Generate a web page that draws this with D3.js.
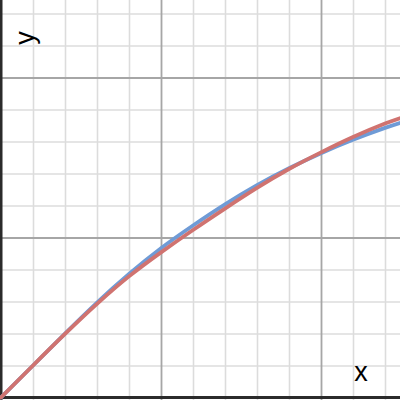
<!DOCTYPE html>
<html>
<head>
<meta charset="utf-8">
<script src="https://cdn.jsdelivr.net/npm/d3@7"></script>
<style>
  html, body { margin: 0; padding: 0; background: #fff; }
  svg { display: block; }
</style>
</head>
<body>
<svg id="graph" width="400" height="400"></svg>
<script>
// values (grid units, 1 major square = 1)
var xs      = [0, 0.2, 0.4, 0.6, 0.8, 1.0, 1.2, 1.4, 1.6, 1.8, 2.0, 2.2, 2.4, 2.5];
var blueYs  = [0, 0.2, 0.399, 0.593, 0.772, 0.933, 1.075, 1.207, 1.327, 1.433, 1.527, 1.611, 1.685, 1.718];
var redYs   = [0, 0.2, 0.397, 0.585, 0.757, 0.907, 1.047, 1.181, 1.31, 1.428, 1.532, 1.628, 1.712, 1.748];
var minorTicks = [0.2, 0.4, 0.6, 0.8, 1.2, 1.4, 1.6, 1.8, 2.2, 2.4];
var majorTicks = [1, 2];
var xLabel = "x", yLabel = "y";

var width = 400, height = 400;
var svg = d3.select("#graph");

var x = d3.scaleLinear().domain([0, 2.5]).range([1, 401]);
var y = d3.scaleLinear().domain([0, 2.5]).range([397.5, -2.5]);

// minor grid
svg.append("g")
    .attr("transform", "translate(0," + height + ")")
    .call(d3.axisBottom(x).tickValues(minorTicks).tickSize(-height).tickFormat(""))
    .call(function(g) { g.select(".domain").remove(); })
    .selectAll("line").attr("stroke", "#dcdcdc").attr("stroke-width", 1.6);
svg.append("g")
    .call(d3.axisLeft(y).tickValues(minorTicks).tickSize(-width).tickFormat(""))
    .call(function(g) { g.select(".domain").remove(); })
    .selectAll("line").attr("stroke", "#dcdcdc").attr("stroke-width", 1.6);

// major grid
svg.append("g")
    .attr("transform", "translate(0," + height + ")")
    .call(d3.axisBottom(x).tickValues(majorTicks).tickSize(-height).tickFormat(""))
    .call(function(g) { g.select(".domain").remove(); })
    .selectAll("line").attr("stroke", "#a6a6a6").attr("stroke-width", 1.8);
svg.append("g")
    .call(d3.axisLeft(y).tickValues(majorTicks).tickSize(-width).tickFormat(""))
    .call(function(g) { g.select(".domain").remove(); })
    .selectAll("line").attr("stroke", "#a6a6a6").attr("stroke-width", 1.8);

// axes
svg.append("line")
    .attr("x1", x(0)).attr("x2", x(0))
    .attr("y1", 0).attr("y2", height)
    .attr("stroke", "#2b2b2b").attr("stroke-width", 3);
svg.append("line")
    .attr("x1", 0).attr("x2", width)
    .attr("y1", y(0)).attr("y2", y(0))
    .attr("stroke", "#2b2b2b").attr("stroke-width", 3);

// curves
var line = d3.line()
    .x(function(d) { return x(d[0]); })
    .y(function(d) { return y(d[1]); })
    .curve(d3.curveNatural);

svg.append("path")
    .datum(d3.zip(xs, blueYs))
    .attr("d", line)
    .attr("fill", "none")
    .attr("stroke", "#6f9bd6")
    .attr("stroke-width", 3.8)
    .attr("stroke-linecap", "round");

svg.append("path")
    .datum(d3.zip(xs, redYs))
    .attr("d", line)
    .attr("fill", "none")
    .attr("stroke", "#d07370")
    .attr("stroke-width", 3.8)
    .attr("stroke-linecap", "round");

// labels
svg.append("text")
    .attr("x", 361).attr("y", 381)
    .attr("text-anchor", "middle")
    .style("font-family", "'Liberation Sans', Arial, sans-serif")
    .style("font-size", "27px")
    .attr("fill", "#000")
    .text(xLabel);

svg.append("text")
    .attr("transform", "translate(34,38) rotate(-90)")
    .attr("text-anchor", "middle")
    .style("font-family", "'Liberation Sans', Arial, sans-serif")
    .style("font-size", "27px")
    .attr("fill", "#000")
    .text(yLabel);
</script>
</body>
</html>
